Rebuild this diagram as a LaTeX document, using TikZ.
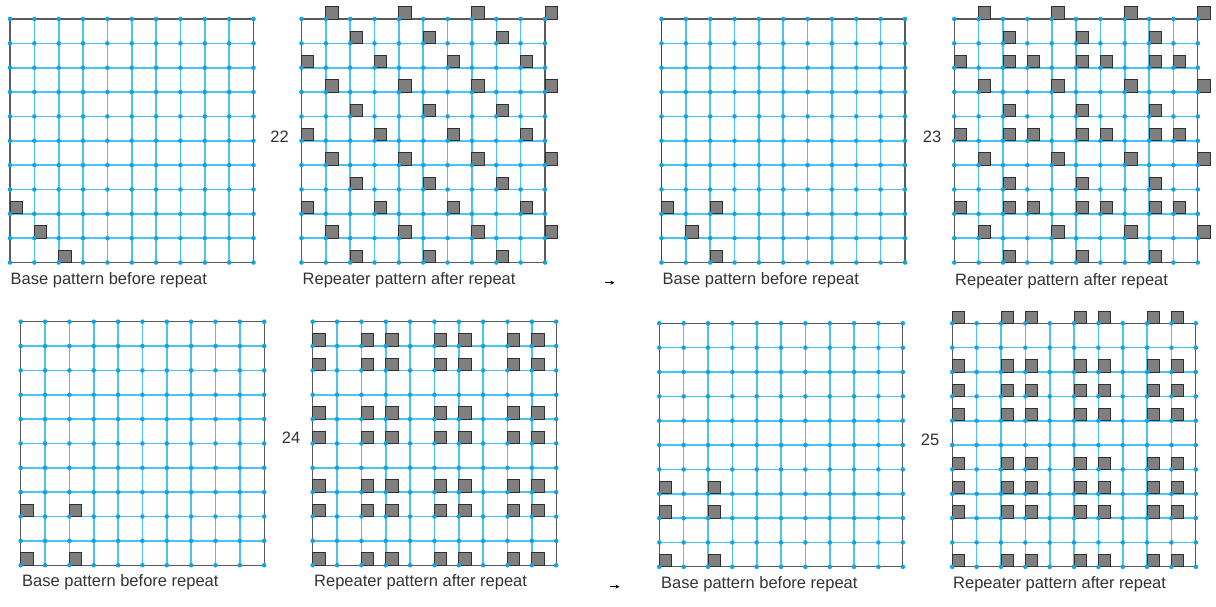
\documentclass[tikz,border=0pt]{standalone}
\usepackage{fontspec}
\setmainfont{Liberation Sans}
\usetikzlibrary{arrows.meta}
\definecolor{gline}{HTML}{4CC4F2}
\definecolor{gdot}{HTML}{16A2E0}
\definecolor{gborder}{HTML}{5A5A5A}
\definecolor{gnavy}{HTML}{2B3F7A}
\definecolor{sqfill}{HTML}{7F7F7F}
\definecolor{sqdraw}{HTML}{303030}
\definecolor{txt}{HTML}{333333}
\tikzset{
  gridline/.style={gline, line width=1.6pt},
  gridborder/.style={gborder, line width=1.3pt},
  cellsq/.style={fill=sqfill, draw=sqdraw, line width=1pt},
  caption/.style={anchor=west, text=txt, font=\fontsize{16.5}{19}\selectfont, inner sep=0pt},
  numlabel/.style={text=txt, font=\fontsize{16.5}{19}\selectfont, inner sep=0pt},
  smallarrow/.style={-{Stealth[length=4pt,width=4pt]}, line width=0.8pt, black},
}
\newcommand\cellsz{24.35}
\newcommand\drawgridat[2]{%
  \foreach \i in {1,...,9} {
    \draw[gridline] ({#1+\i*\cellsz},#2) -- ({#1+\i*\cellsz},{#2+10*\cellsz});
    \draw[gridline] (#1,{#2+\i*\cellsz}) -- ({#1+10*\cellsz},{#2+\i*\cellsz});
  }
  \draw[gridborder] (#1,#2) rectangle ({#1+10*\cellsz},{#2+10*\cellsz});
}
\newcommand\drawdotsat[2]{%
  \foreach \i in {0,...,10} {
    \foreach \j in {0,...,10} {
      \fill[gdot] ({#1+\i*\cellsz},{#2+\j*\cellsz}) circle (2.3pt);
    }
  }
}
\newcommand\sqat[4]{%
  \draw[cellsq] ({#1+#3*\cellsz},{#2+(10-#4)*\cellsz}) rectangle ++(12.3,-12.3);
}
\begin{document}
\begin{tikzpicture}[x=1pt,y=-1pt]
\useasboundingbox (0,0) rectangle (1216,606);

% ---------- grids ----------
\drawgridat{10}{19}
\drawgridat{301.5}{19}
\drawgridat{661.5}{19}
\draw[gnavy, line width=1.3pt] (661.5,19) -- (661.5,{19+10*\cellsz});
\drawgridat{954.3}{19}
\drawgridat{20.7}{321.7}
\drawgridat{312.7}{321.7}
\drawgridat{659.3}{323.3}
\drawgridat{952.3}{323.3}

% ---------- base patterns ----------
\sqat{10}{19}{0}{2}\sqat{10}{19}{1}{1}\sqat{10}{19}{2}{0}
\sqat{661.5}{19}{0}{2}\sqat{661.5}{19}{1}{1}\sqat{661.5}{19}{2}{0}\sqat{661.5}{19}{2}{2}
\sqat{20.7}{321.7}{0}{0}\sqat{20.7}{321.7}{2}{0}\sqat{20.7}{321.7}{0}{2}\sqat{20.7}{321.7}{2}{2}
\sqat{659.3}{323.3}{0}{0}\sqat{659.3}{323.3}{2}{0}\sqat{659.3}{323.3}{0}{2}\sqat{659.3}{323.3}{2}{2}\sqat{659.3}{323.3}{0}{3}\sqat{659.3}{323.3}{2}{3}

% ---------- repeated patterns ----------
\foreach \c in {0,...,10} {
  \foreach \r in {0,...,10} {
    \pgfmathtruncatemacro\m{mod(\c+\r,3)}
    \pgfmathtruncatemacro\a{mod(\c,3)}
    \pgfmathtruncatemacro\b{mod(\r,3)}
    \pgfmathtruncatemacro\q{mod(\r,4)}
    \pgfmathtruncatemacro\okA{(\m==2)}
    \pgfmathtruncatemacro\okB{(\m==2)||((\a==2)&&(\b==2))}
    \pgfmathtruncatemacro\okC{(\a!=1)&&(\b!=1)}
    \pgfmathtruncatemacro\okD{(\a!=1)&&(\q!=1)}
    \ifnum\okA=1 \sqat{301.5}{19}{\c}{\r}\fi
    \ifnum\okB=1 \sqat{954.3}{19}{\c}{\r}\fi
    \ifnum\okC=1 \sqat{312.7}{321.7}{\c}{\r}\fi
    \ifnum\okD=1 \sqat{952.3}{323.3}{\c}{\r}\fi
  }
}

% ---------- dots ----------
\drawdotsat{10}{19}
\drawdotsat{301.5}{19}
\drawdotsat{661.5}{19}
\drawdotsat{954.3}{19}
\drawdotsat{20.7}{321.7}
\drawdotsat{312.7}{321.7}
\drawdotsat{659.3}{323.3}
\drawdotsat{952.3}{323.3}

% ---------- captions ----------
\node[caption] (c1) at (10.5,280.5) {Base pattern before repeat};
\node[caption] (c2) at (302.5,280.5) {Repeater pattern after repeat};
\node[caption] (c3) at (662.5,280.5) {Base pattern before repeat};
\node[caption] (c4) at (955,281.5) {Repeater pattern after repeat};
\node[caption] (c5) at (22,582.5) {Base pattern before repeat};
\node[caption] (c6) at (314,582.5) {Repeater pattern after repeat};
\node[caption] (c7) at (661,584) {Base pattern before repeat};
\node[caption] (c8) at (953,584) {Repeater pattern after repeat};

% ---------- numbers ----------
\node[numlabel] (n22) at (279.5,136.5) {22};
\node[numlabel] (n23) at (932,137) {23};
\node[numlabel] (n24) at (291,438) {24};
\node[numlabel] (n25) at (930,440) {25};

% ---------- small arrows ----------
\coordinate (a1s) at (605,282.7);
\coordinate (a1e) at (614.5,282.7);
\coordinate (a2s) at (610,586.7);
\coordinate (a2e) at (619.5,586.7);
\draw[smallarrow] (a1s) -- (a1e);
\draw[smallarrow] (a2s) -- (a2e);
\end{tikzpicture}
\end{document}
